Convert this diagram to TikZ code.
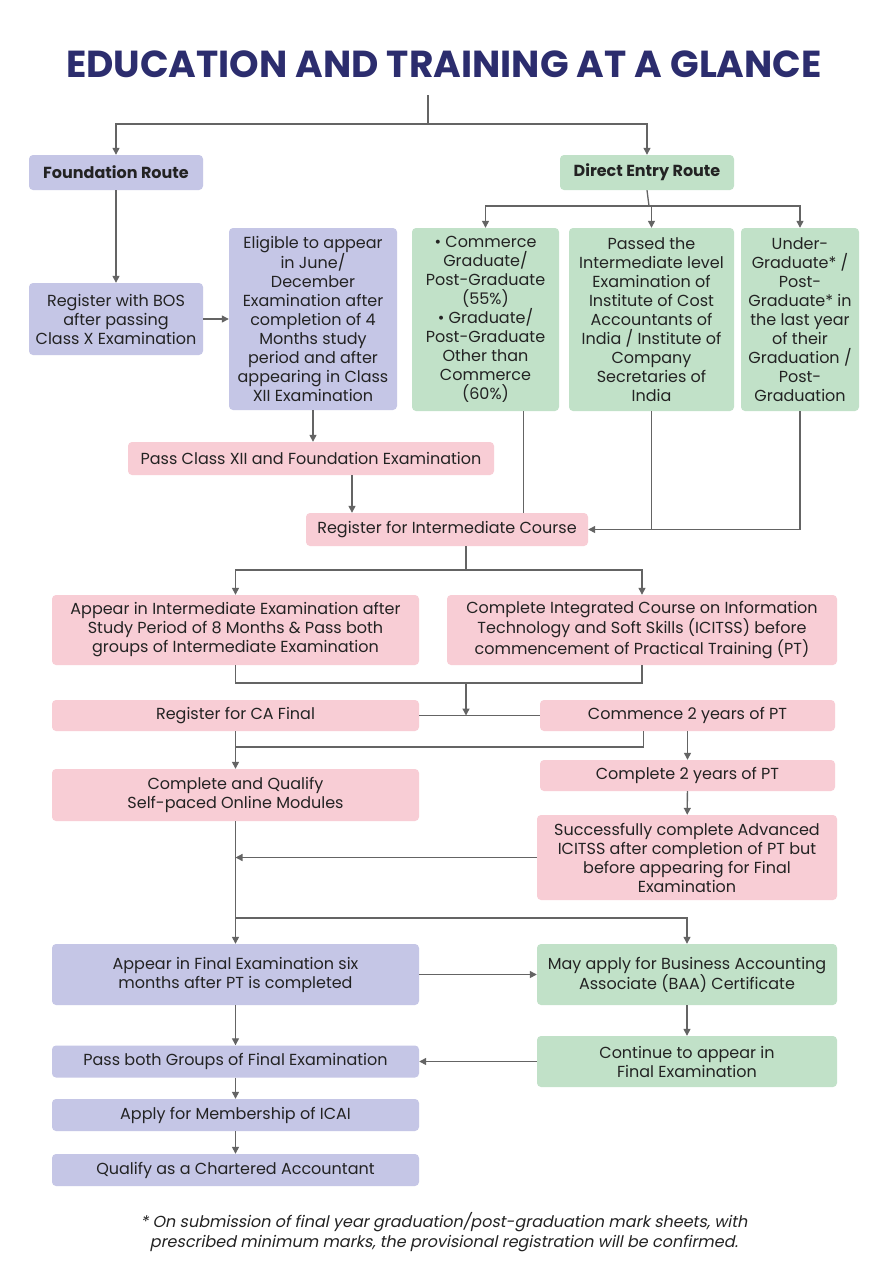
\documentclass[tikz,border=0pt]{standalone}
\usepackage{fontspec}
\setmainfont{Poppins}
\newfontfamily\notefont{Poppins}[FakeSlant=0.2]
\usepackage{tikz}
\usetikzlibrary{arrows.meta}
\definecolor{navy}{RGB}{44,45,110}
\definecolor{lav}{RGB}{197,198,230}
\definecolor{grn}{RGB}{193,225,200}
\definecolor{pnk}{RGB}{248,205,213}
\definecolor{linegray}{RGB}{100,100,100}
\definecolor{txt}{RGB}{35,35,35}
\tikzstyle{box} = [rounded corners=4pt, align=center, inner sep=2pt, text=txt, font=\fontsize{16}{19}\selectfont]
\tikzstyle{lavbox} = [box, fill=lav]
\tikzstyle{grnbox} = [box, fill=grn]
\tikzstyle{pnkbox} = [box, fill=pnk]
\tikzstyle{arrow} = [line width=1.3pt, draw=linegray, -{Triangle[length=7pt,width=7pt]}]
\tikzstyle{line} = [line width=1.3pt, draw=linegray]

\begin{document}
\begin{tikzpicture}[x=1pt,y=-1pt]
	\fill[white] (0,0) rectangle (882,1280);
	\useasboundingbox (0,0) rectangle (882,1280);
	\node[text=navy, font=\fontsize{37.6}{40}\selectfont\bfseries] (title) at (444,64) {EDUCATION AND TRAINING AT A GLANCE};

	\node[lavbox, font=\fontsize{16}{19}\selectfont\bfseries, minimum width=174pt, minimum height=35pt] (fr) at (116,172.5) {Foundation Route};
	\node[grnbox, font=\fontsize{16}{19}\selectfont\bfseries, minimum width=174pt, minimum height=35pt] (de) at (647,172.5) {Direct Entry Route};

	\node[lavbox, minimum width=174pt, minimum height=72pt] (bos) at (116,319) {Register with BOS\\after passing\\Class X Examination};
	\node[lavbox, minimum width=168pt, minimum height=182pt] (elig) at (313,319) {Eligible to appear\\in June/\\December\\Examination after\\completion of 4\\Months study\\period and after\\appearing in Class\\XII Examination};
	\node[grnbox, minimum width=147pt, minimum height=183pt] (g1) at (485.5,319.5) {\textbullet{} Commerce\\Graduate/\\Post-Graduate\\(55\%)\\\textbullet{} Graduate/\\Post-Graduate\\Other than\\Commerce\\(60\%)};
	\node[grnbox, minimum width=165pt, minimum height=183pt] (g2) at (651.5,319.5) {Passed the\\Intermediate level\\Examination of\\Institute of Cost\\Accountants of\\India / Institute of\\Company\\Secretaries of\\India};
	\node[grnbox, minimum width=118pt, minimum height=183pt] (g3) at (800,319.5) {Under-\\Graduate* /\\Post-\\Graduate* in\\the last year\\of their\\Graduation /\\Post-\\Graduation};

	\node[pnkbox, minimum width=366pt, minimum height=33pt] (pass12) at (311,458.5) {Pass Class XII and Foundation Examination};
	\node[pnkbox, minimum width=282pt, minimum height=33pt] (regint) at (447,529.5) {Register for Intermediate Course};

	\node[pnkbox, minimum width=367pt, minimum height=70pt] (appint) at (235.5,630) {Appear in Intermediate Examination after\\Study Period of 8 Months \& Pass both\\groups of Intermediate Examination};
	\node[pnkbox, minimum width=390pt, minimum height=70pt] (icitss) at (642,630) {Complete Integrated Course on Information\\Technology and Soft Skills (ICITSS) before\\commencement of Practical Training (PT)};

	\node[pnkbox, minimum width=367pt, minimum height=31pt] (regfin) at (235.5,715.5) {Register for CA Final};
	\node[pnkbox, minimum width=295pt, minimum height=31pt] (comm) at (687.5,715.5) {Commence 2 years of PT};
	\node[pnkbox, minimum width=295pt, minimum height=31pt] (comp2) at (687.5,775.5) {Complete 2 years of PT};
	\node[pnkbox, minimum width=367pt, minimum height=52pt] (compq) at (235.5,795) {Complete and Qualify\\Self-paced Online Modules};
	\node[pnkbox, minimum width=300pt, minimum height=85pt] (succ) at (687,857.5) {Successfully complete Advanced\\ICITSS after completion of PT but\\before appearing for Final\\Examination};

	\node[lavbox, minimum width=367pt, minimum height=61pt] (appfin) at (235.5,974.5) {Appear in Final Examination six\\months after PT is completed};
	\node[grnbox, minimum width=300pt, minimum height=61pt] (baa) at (687,974.5) {May apply for Business Accounting\\Associate (BAA) Certificate};
	\node[grnbox, minimum width=300pt, minimum height=51pt] (cont) at (687,1061.5) {Continue to appear in\\Final Examination};
	\node[lavbox, minimum width=367pt, minimum height=32pt] (passfin) at (235.5,1061.5) {Pass both Groups of Final Examination};
	\node[lavbox, minimum width=367pt, minimum height=32pt] (apply) at (235.5,1115) {Apply for Membership of ICAI};
	\node[lavbox, minimum width=367pt, minimum height=32pt] (qual) at (235.5,1170) {Qualify as a Chartered Accountant};

	\node[text=txt, align=center, font=\fontsize{16}{20}\notefont] (note) at (444,1232) {* On submission of final year graduation/post-graduation mark sheets, with\\prescribed minimum marks, the provisional registration will be confirmed.};

	\coordinate (top) at (428,95);
	\coordinate (j1) at (428,124);
	\coordinate (j2) at (649,206);
	\coordinate (j3) at (466,570);
	\coordinate (j4) at (466,683);
	\coordinate (j5) at (235.5,747);
	\coordinate (j6) at (235.5,918);

	\draw[line] (top) -- (j1);
	\draw[arrow] (j1) -| (fr.north);
	\draw[arrow] (j1) -| (de.north);
	\draw[arrow] (fr) -- (bos);
	\draw[arrow] (bos) -- (elig);
	\draw[line] (de.south) -- (j2);
	\draw[arrow] (j2) -| (g1.north);
	\draw[arrow] (j2) -| (g2.north);
	\draw[arrow] (j2) -| (g3.north);

	\draw[arrow] (elig.south) -- (elig.south |- pass12.north);
	\draw[arrow] ([xshift=41pt]pass12.south) -- ([xshift=41pt]pass12.south |- regint.north);
	\draw[line] ([xshift=38pt]g1.south) -- ([xshift=38pt]g1.south |- regint.north);
	\draw[line] (g2.south) -- (g2.south |- regint.east);
	\draw[arrow] (g3.south) |- (regint.east);

	\draw[line] (regint.south -| j3) -- (j3);
	\draw[arrow] (j3) -| (appint.north);
	\draw[arrow] (j3) -| (icitss.north);
	\draw[line] (appint.south) |- (j4) -| (icitss.south);
	\draw[line] (regfin.east) -- (comm.west);
	\draw[arrow] (j4) -- (j4 |- regfin.east);

	\draw[line] (regfin.south) -- (j5) -| ([xshift=-44pt]comm.south);
	\draw[arrow] (j5) -- (compq.north);
	\draw[arrow] (comm) -- (comp2);
	\draw[arrow] (comp2) -- (succ);
	\draw[arrow] (succ.west) -- (succ.west -| compq.south);
	\draw[arrow] (compq) -- (appfin);
	\draw[arrow] (j6) -| (baa.north);

	\draw[arrow] (appfin) -- (baa);
	\draw[arrow] (baa) -- (cont);
	\draw[arrow] (cont.west) -- (cont.west -| passfin.east);
	\draw[arrow] (appfin) -- (passfin);
	\draw[arrow] (passfin) -- (apply);
	\draw[arrow] (apply) -- (qual);
\end{tikzpicture}
\end{document}
